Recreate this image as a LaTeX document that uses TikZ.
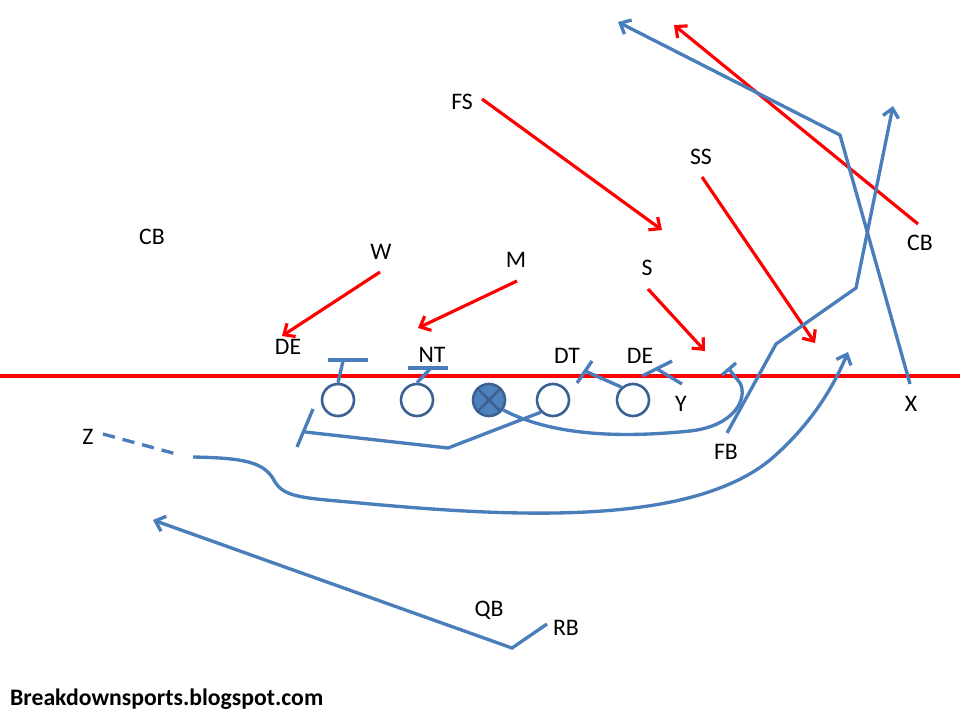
\documentclass[tikz,border=0pt]{standalone}
\usepackage{fontspec}
\setmainfont{Carlito}
\usepackage{tikz}
\usetikzlibrary{arrows.meta}
\definecolor{routeblue}{RGB}{74,126,187}
\definecolor{lineblue}{RGB}{60,98,148}
\definecolor{fillblue}{RGB}{79,129,189}

\begin{document}
\begin{tikzpicture}[x=0.02cm, y=-0.02cm]
    \tikzset{player/.style = {circle, draw=lineblue, line width=1.5pt, minimum size=0.64cm, inner sep=0pt}}
    \tikzset{label/.style = {font=\fontsize{13.5}{15}\selectfont, inner sep=1pt}}
    \tikzset{route/.style = {draw=routeblue, line width=1.9pt}}
    \tikzset{rush/.style = {draw=red, line width=1.8pt, -{Straight Barb[length=5pt, width=9pt]}}}
    \tikzset{tip/.style = {-{Straight Barb[length=5pt, width=9pt]}}}
    \useasboundingbox (0,0) rectangle (960,720);
    % line of scrimmage
    \coordinate (los l) at (0,376);
    \coordinate (los r) at (960,376);
    \draw[red, line width=2pt] (los l) -- (los r);
    % offensive line
    \node[player] (lt) at (338,400) {};
    \node[player] (lg) at (417,400) {};
    \node[player, fill=fillblue] (ctr) at (489,400) {};
    \node[player] (rg) at (553,400) {};
    \node[player] (rt) at (633,400) {};
    \draw[lineblue, line width=1.5pt] (ctr.north west) -- (ctr.south east) (ctr.north east) -- (ctr.south west);
    % labels
    \node[label] (cbl) at (152,237) {CB};
    \node[label] (w) at (381,252) {W};
    \node[label] (m) at (516,260) {M};
    \node[label] (fs) at (462,102) {FS};
    \node[label] (ss) at (701,157) {SS};
    \node[label] (s) at (647,268) {S};
    \node[label] (del) at (288,347) {DE};
    \node[label] (nt) at (432,355) {NT};
    \node[label] (dt) at (567,356) {DT};
    \node[label] (der) at (640,356) {DE};
    \node[label] (cbr) at (920,243) {CB};
    \node[label] (y) at (681,404) {Y};
    \node[label] (x) at (911,404) {X};
    \node[label] (fb) at (726,452) {FB};
    \node[label] (z) at (88,437) {Z};
    \node[label] (qb) at (489,610) {QB};
    \node[label] (rb) at (566,628) {RB};
    \node[label, font=\fontsize{13.5}{15}\selectfont\bfseries, anchor=west] (site) at (8,699) {Breakdownsports.blogspot.com};
    % defense
    \coordinate (w1) at (380,272);   \coordinate (w2) at (282,336);
    \coordinate (m1) at (517,281);   \coordinate (m2) at (418,328);
    \coordinate (fs1) at (482,99);   \coordinate (fs2) at (662,230);
    \coordinate (ss1) at (702,177);  \coordinate (ss2) at (815,343);
    \coordinate (s1) at (648,289);   \coordinate (s2) at (705,351);
    \coordinate (cb1) at (918,224);  \coordinate (cb2) at (674,25);
    \draw[rush] (w1) -- (w2);
    \draw[rush] (m1) -- (m2);
    \draw[rush] (fs1) -- (fs2);
    \draw[rush] (ss1) -- (ss2);
    \draw[rush] (s1) -- (s2);
    \draw[rush] (cb1) -- (cb2);
    % blocks
    \coordinate (ltb) at (343,361);
    \draw[route] (lt.north) -- (ltb);
    \draw[route] (328,360) -- (368,360);
    \coordinate (lgb) at (430,369);
    \draw[route] (lg.north) -- (lgb);
    \draw[route] (408,368) -- (448,368);
    \coordinate (rtb) at (585,371);
    \draw[route] (rt.132) -- (rtb);
    \draw[route] (577,383) -- (592,361);
    \coordinate (yb) at (657,369);
    \draw[route] (682,384) -- (yb);
    \draw[route] (642,376) -- (672,361);
    \coordinate (pull) at (448,448);
    \coordinate (rgb) at (305,432);
    \draw[route] (rg.225) -- (pull) -- (rgb);
    \draw[route] (297,447) -- (313,409);
    \coordinate (cb) at (729,369);
    \draw[route] (ctr.-35) .. controls (560,440) and (640,436) .. (690,431)
        .. controls (735,426) and (748,398) .. (740,383) -- (cb);
    \draw[route] (722,375) -- (736,363);
    % routes
    \coordinate (x1) at (840,135);  \coordinate (x2) at (618,22);
    \draw[route, tip] (910,384) -- (x1) -- (x2);
    \coordinate (fb1) at (776,344); \coordinate (fb2) at (856,288); \coordinate (fb3) at (893,106);
    \draw[route, tip] (727,433) -- (fb1) -- (fb2) -- (fb3);
    \coordinate (z1) at (180,455);  \coordinate (z2) at (193,457); \coordinate (z3) at (848,352);
    \draw[route, dash pattern=on 7pt off 4.5pt] (103,434) -- (z1);
    \draw[route, tip] (z2) .. controls (245,458) and (265,462) .. (275,482)
        .. controls (285,498) and (305,498) .. (360,503)
        .. controls (520,518) and (690,525) .. (770,460)
        .. controls (805,430) and (830,395) .. (z3);
    \coordinate (qb1) at (512,648); \coordinate (qb2) at (153,520);
    \draw[route, tip] (547,624) -- (qb1) -- (qb2);
  \end{tikzpicture}
\end{document}
